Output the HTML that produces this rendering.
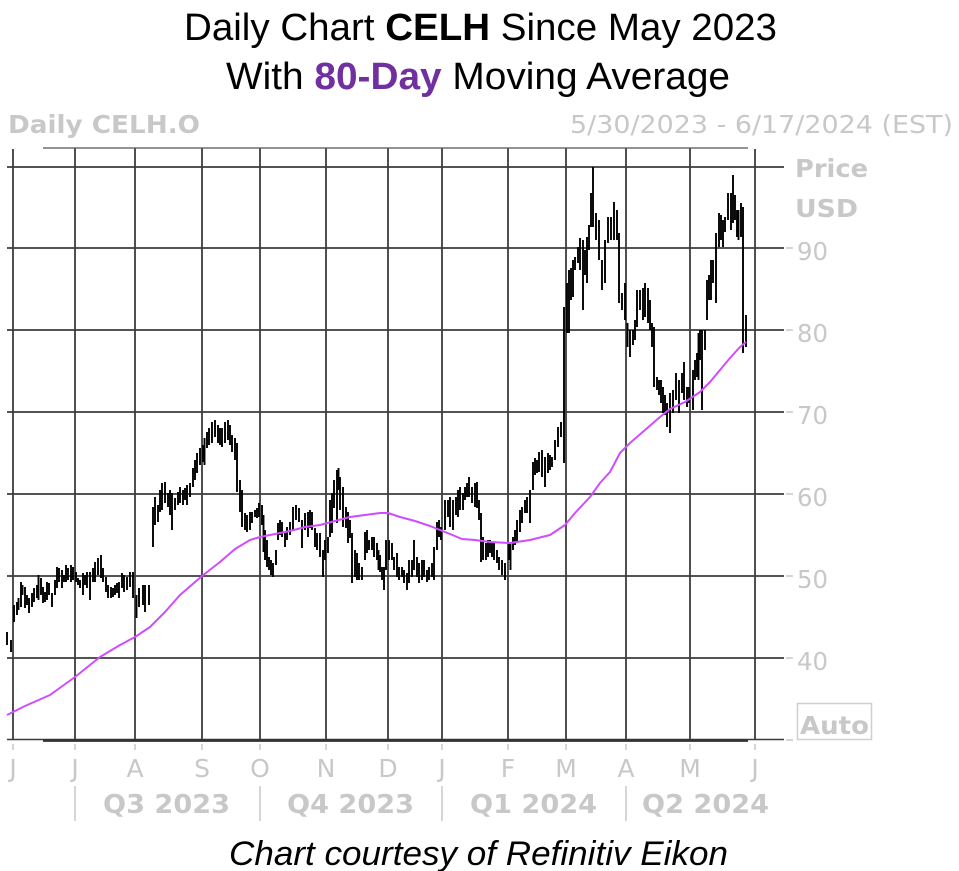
<!DOCTYPE html>
<html>
<head>
<meta charset="utf-8">
<style>
html,body{margin:0;padding:0;background:#fff;}
svg{display:block;}
</style>
</head>
<body>
<svg width="959" height="871" viewBox="0 0 959 871" xmlns="http://www.w3.org/2000/svg">
<rect width="959" height="871" fill="#fff"/>
<!-- Title -->
<text x="184" y="40" font-family="Liberation Sans, Arial, sans-serif" font-size="38" fill="#000" textLength="593" lengthAdjust="spacingAndGlyphs">Daily Chart <tspan font-weight="bold">CELH</tspan> Since May 2023</text>
<text x="226" y="89" font-family="Liberation Sans, Arial, sans-serif" font-size="38" fill="#000" textLength="504" lengthAdjust="spacingAndGlyphs">With <tspan font-weight="bold" fill="#7030a0">80-Day</tspan> Moving Average</text>

<!-- header labels -->
<text x="8" y="133" font-family="DejaVu Sans, sans-serif" font-weight="bold" font-size="25" fill="#c8c8c8" textLength="192" lengthAdjust="spacingAndGlyphs">Daily CELH.O</text>
<text x="570" y="133" font-family="DejaVu Sans, sans-serif" font-size="25" fill="#c8c8c8" textLength="383" lengthAdjust="spacingAndGlyphs">5/30/2023 - 6/17/2024 (EST)</text>

<!-- grid -->
<g stroke="#3c3c3c" stroke-width="1.8" fill="none">
<line x1="7" y1="167" x2="784" y2="167"/>
<line x1="7" y1="248" x2="784" y2="248"/>
<line x1="7" y1="330" x2="784" y2="330"/>
<line x1="7" y1="412" x2="784" y2="412"/>
<line x1="7" y1="494" x2="784" y2="494"/>
<line x1="7" y1="576" x2="784" y2="576"/>
<line x1="7" y1="658" x2="784" y2="658"/>
<line x1="13" y1="149" x2="13" y2="740"/>
<line x1="75" y1="148" x2="75" y2="740"/>
<line x1="135" y1="148" x2="135" y2="740"/>
<line x1="202" y1="148" x2="202" y2="740"/>
<line x1="260" y1="148" x2="260" y2="740"/>
<line x1="326" y1="148" x2="326" y2="740"/>
<line x1="388" y1="148" x2="388" y2="740"/>
<line x1="442" y1="148" x2="442" y2="740"/>
<line x1="508" y1="148" x2="508" y2="740"/>
<line x1="566" y1="148" x2="566" y2="740"/>
<line x1="626" y1="148" x2="626" y2="740"/>
<line x1="690" y1="148" x2="690" y2="740"/>
<line x1="755" y1="149" x2="755" y2="740"/>
</g>
<line x1="43" y1="148" x2="748" y2="148" stroke="#555" stroke-width="1.3"/>
<line x1="7" y1="739.5" x2="784" y2="739.5" stroke="#3c3c3c" stroke-width="1.5"/>
<line x1="43" y1="740.5" x2="748" y2="740.5" stroke="#333" stroke-width="2.8"/>

<!-- y ticks -->
<g stroke="#c8c8c8" stroke-width="1.5">
<line x1="786" y1="248" x2="793" y2="248"/>
<line x1="786" y1="330" x2="793" y2="330"/>
<line x1="786" y1="412" x2="793" y2="412"/>
<line x1="786" y1="494" x2="793" y2="494"/>
<line x1="786" y1="576" x2="793" y2="576"/>
<line x1="786" y1="658" x2="793" y2="658"/>
<line x1="786" y1="740" x2="793" y2="740"/>
</g>
<g font-family="DejaVu Sans, sans-serif" font-size="25" fill="#c8c8c8">
<text x="797" y="260" textLength="31" lengthAdjust="spacingAndGlyphs">90</text>
<text x="797" y="342" textLength="31" lengthAdjust="spacingAndGlyphs">80</text>
<text x="797" y="424" textLength="31" lengthAdjust="spacingAndGlyphs">70</text>
<text x="797" y="506" textLength="31" lengthAdjust="spacingAndGlyphs">60</text>
<text x="797" y="588" textLength="31" lengthAdjust="spacingAndGlyphs">50</text>
<text x="797" y="670" textLength="31" lengthAdjust="spacingAndGlyphs">40</text>
</g>
<g font-family="DejaVu Sans, sans-serif" font-size="25" font-weight="bold" fill="#c8c8c8">
<text x="795" y="177" textLength="73" lengthAdjust="spacingAndGlyphs">Price</text>
<text x="795" y="217" textLength="63" lengthAdjust="spacingAndGlyphs">USD</text>
<text x="800" y="734" textLength="69" lengthAdjust="spacingAndGlyphs">Auto</text>
</g>
<rect x="797.5" y="703.5" width="74" height="36" fill="none" stroke="#cfcfcf" stroke-width="1.5"/>

<!-- x ticks -->
<g stroke="#c8c8c8" stroke-width="1.5">
<line x1="13" y1="744" x2="13" y2="750"/>
<line x1="75" y1="744" x2="75" y2="750"/>
<line x1="135" y1="744" x2="135" y2="750"/>
<line x1="202" y1="744" x2="202" y2="750"/>
<line x1="260" y1="744" x2="260" y2="750"/>
<line x1="326" y1="744" x2="326" y2="750"/>
<line x1="388" y1="744" x2="388" y2="750"/>
<line x1="442" y1="744" x2="442" y2="750"/>
<line x1="508" y1="744" x2="508" y2="750"/>
<line x1="566" y1="744" x2="566" y2="750"/>
<line x1="626" y1="744" x2="626" y2="750"/>
<line x1="690" y1="744" x2="690" y2="750"/>
<line x1="755" y1="744" x2="755" y2="750"/>
<line x1="75" y1="786" x2="75" y2="821"/>
<line x1="260" y1="786" x2="260" y2="821"/>
<line x1="442" y1="786" x2="442" y2="821"/>
<line x1="626" y1="786" x2="626" y2="821"/>
</g>
<g font-family="DejaVu Sans, sans-serif" font-size="25" fill="#c8c8c8" text-anchor="middle">
<text x="13" y="777">J</text>
<text x="75" y="777">J</text>
<text x="135" y="777">A</text>
<text x="202" y="777">S</text>
<text x="260" y="777">O</text>
<text x="326" y="777">N</text>
<text x="388" y="777">D</text>
<text x="442" y="777">J</text>
<text x="508" y="777">F</text>
<text x="566" y="777">M</text>
<text x="626" y="777">A</text>
<text x="690" y="777">M</text>
<text x="755" y="777">J</text>
</g>
<g font-family="DejaVu Sans, sans-serif" font-size="26" font-weight="bold" fill="#c8c8c8">
<text x="103" y="813" textLength="127" lengthAdjust="spacingAndGlyphs">Q3 2023</text>
<text x="287" y="813" textLength="127" lengthAdjust="spacingAndGlyphs">Q4 2023</text>
<text x="470" y="813" textLength="127" lengthAdjust="spacingAndGlyphs">Q1 2024</text>
<text x="642" y="813" textLength="127" lengthAdjust="spacingAndGlyphs">Q2 2024</text>
</g>

<!-- price bars -->
<path fill="none" stroke="#000" stroke-width="1.9" d="M7 632V645M11 640V652M14 605V622M17 602V615M18.5 598V610M21 582V607M22.5 585V595M25 587V608M27 595V605M29 598V613M32 593V607M34 588V602M37 585V598M38.5 575V600M41 578V595M43 587V603M45 592V602M47 582V600M49 583V595M52 593V607M55 580V595M57 567V588M59 568V582M62 570V588M64 575V582M66 565V582M68 568V580M71 565V582M73 567V580M76 572V582M78 578V585M80 580V588M83 573V595M85 575V585M87 572V588M90 572V600M93 568V582M95 562V582M98 558V575M101 555V578M103 568V582M106 577V592M108 585V598M111 587V598M113 588V597M115 585V595M117 583V593M119 582V598M122 573V588M124 575V592M127 577V590M130 572V587M133 572V598M136.5 595V618M139 588V607M143 585V605M145 585V612M149 585V605M153 507V547M155 497V525M158 505V522M160 490V512M162 483V510M165 482V503M168 493V507M170 490V515M172 493V530M175 498V510M178 492V505M180 487V503M183 490V505M185 488V500M187 485V505M190 483V497M193 468V487M195 460V480M197 453V473M200 448V465M203 445V462M204.5 438V465M207 432V448M209 428V445M212 422V443M215 420V437M218 425V443M220 428V445M222 428V447M225 422V443M228 420V440M230 425V445M232 435V452M235 438V460M237 443V492M240 480V512M242 490V527M245 513V530M247 515V532M250 512V530M252 512V523M255 510V517M257 508V518M259 503V517M262 505V525M263.5 515V552M265 530V560M267 540V567M269 557V570M271 560V575M273 563V577M276 550V565M278 523V540M280 520V535M282 522V537M285 533V547M287 527V540M290 522V535M293 507V530M296 505V520M299 508V522M302 520V548M305 513V530M308 512V537M310 510V528M312 512V530M315 528V547M317 533V550M320 533V557M323 550V577M325 540V560M328 537V553M330 500V537M332 493V533M334 480V508M337 470V523M338.5 468V490M340 477V510M343 487V527M346 507V528M348 512V543M350 520V538M352 533V583M355 550V577M357 553V580M359 563V580M362 567V580M365 532V560M367 530V553M369 540V550M372 537V550M374 537V557M377 543V560M378.5 550V570M380 555V572M382 567V580M384 567V590M386 540V570M389 540V560M392 543V560M394 557V570M397 553V577M399 567V580M402 567V577M404 570V583M407 573V590M409 560V583M412 560V577M414 540V570M417 557V577M419 563V583M422 560V580M424 560V577M427 570V582M429 567V580M432 563V577M434 547V580M437 522V550M439 520V537M441 527V540M445 500V530M448 500V517M450 497V527M453 500V530M456 497V515M458 490V517M460 487V510M463 493V510M465 487V500M467 483V497M469 477V497M472 487V503M475 483V507M477 482V508M479 500V520M481 513V562M483 537V560M486 543V560M488 540V557M490 540V553M492 543V557M494 543V560M497 550V563M499 557V570M502 560V575M505 563V580M509 543V560M510.5 543V570M513 537V550M515 530V545M517 520V543M520 510V532M522 507V523M525 500V513M527 497V513M530 490V523M533 462V490M535 458V475M537 460V473M539 452V472M542 450V477M545 457V487M548 453V473M550 455V470M552 457V467M555 440V460M558 427V447M561 422V437M564 307V463M567 283V333M569 270V333M571 268V300M573 260V297M575 257V270M578 247V263M580 238V270M583 240V310M585 250V275M587 237V283M589 225V250M591 193V227M593 167V227M596 213V240M599 220V260M602 260V290M605 240V283M608 217V243M611 217V240M614 202V240M617 210V240M619 233V303M622 293V310M625 283V320M627.5 323V347M630 330V357M633 330V345M635 320V340M637 290V327M640 290V310M643 288V320M645 283V317M648 288V323M650 300V330M652 323V347M654 327V387M657 377V390M659 380V395M661 380V403M663 387V413M665 395V415M667 403V427M670 393V433M673 390V413M676 373V400M679 380V413M682 373V393M684 362V400M687 387V407M689 387V403M693 370V410M695 360V380M697 353V377M698.5 333V380M700 330V360M702 330V410M705 330V350M707 280V320M709 275V300M711 260V300M713 260V283M716 233V303M719 213V247M721 215V240M723 220V247M725 217V232M728 193V220M731 193V230M733 175V223M735 195V220M737 210V237M738.5 210V240M741 203V237M743 207V353M746 315V347"/>

<!-- 80-day MA -->
<polyline fill="none" stroke="#d04cff" stroke-width="2" stroke-linejoin="round" points="7,715 13,712 25,706 50,695 75,677 100,657 120,645 135,637 150,627 165,612 180,595 202,576 220,562 235,549 250,540 260,537 275,534 290,531 305,527 320,525 335,521 350,517 365,515 380,513 388,513 400,517 415,521 430,526 440,530 450,534 462,539 475,540 490,542 510,543 530,540 550,535 565,525 575,513 590,497 600,483 610,472 620,453 630,443 645,430 660,417 670,409 685,402 700,392 710,382 720,370 730,358 740,347 746,342"/>

<!-- caption -->
<text x="229" y="865" font-family="Liberation Sans, Arial, sans-serif" font-style="italic" font-size="34" fill="#000" textLength="499" lengthAdjust="spacingAndGlyphs">Chart courtesy of Refinitiv Eikon</text>
</svg>
</body>
</html>
